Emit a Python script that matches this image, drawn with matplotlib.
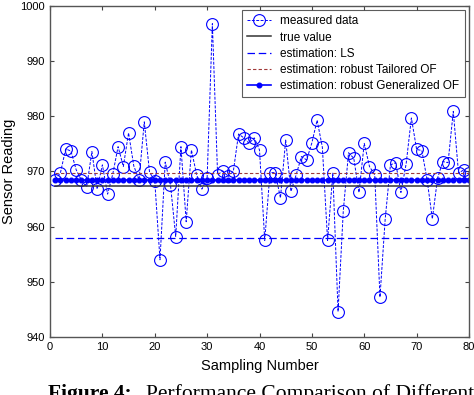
import numpy as np
import matplotlib
matplotlib.use('Agg')
import matplotlib.pyplot as plt

plt.rcParams['font.family'] = ['Liberation Sans', 'DejaVu Sans']

# measured sensor readings, samples 1..80
sample = np.arange(1, 81)
measured = [968.5, 969.8, 974.1, 973.7, 970.3, 968.4, 967.2, 973.6, 966.8, 971.2,
            965.9, 969.6, 974.5, 970.9, 977.0, 971.0, 968.5, 979.0, 969.9, 968.3,
            954.0, 971.7, 967.6, 958.2, 974.5, 960.9, 973.9, 969.4, 966.8, 968.8,
            996.8, 969.4, 970.1, 969.1, 970.0, 976.8, 976.1, 975.1, 976.1, 973.9,
            957.5, 969.8, 969.8, 965.2, 975.7, 966.4, 969.4, 972.7, 972.1, 975.2,
            979.3, 974.4, 957.5, 969.7, 944.6, 962.9, 973.4, 972.4, 966.2, 975.1,
            970.9, 969.4, 947.2, 961.4, 971.2, 971.6, 966.2, 971.4, 979.7, 974.0,
            973.8, 968.5, 961.4, 968.8, 971.8, 971.6, 980.9, 969.7, 970.3, 969.7]
true_value = 967.4
est_ls = 957.9
est_tailored = 969.7
est_generalized = 968.4

fig = plt.figure(figsize=(4.74, 3.95), dpi=100)
ax = fig.add_axes([50 / 474, 1 - 337 / 395, 419 / 474, 331 / 395])

n = len(sample)
ax.plot(sample, measured, '--', color='blue', lw=0.7, dashes=(3, 1.5),
        marker='o', ms=8.5, mfc='none', mew=0.8, label='measured data')
ax.plot(sample, [true_value] * n, '-', color='#333333', lw=1.1, label='true value')
ax.plot(sample, [est_ls] * n, '--', color='blue', lw=0.9, dashes=(6, 3),
        label='estimation: LS')
ax.plot(sample, [est_tailored] * n, '--', color='#a03838', lw=0.8, dashes=(3, 2),
        label='estimation: robust Tailored OF')
ax.plot(sample, [est_generalized] * n, '-', color='blue', lw=1.2,
        marker='o', ms=3.3, mfc='blue', mec='blue', label='estimation: robust Generalized OF')

ax.set_xlim(0, 80)
ax.set_ylim(940, 1000)
ax.set_xticks(range(0, 81, 10))
ax.set_yticks(range(940, 1001, 10))
ax.tick_params(direction='in', top=True, right=True, labelsize=8, length=3,
               color='#444444')
for s in ax.spines.values():
    s.set_color('#555555')
    s.set_linewidth(1.0)

ax.set_xlabel('Sampling Number', fontsize=10.5, labelpad=5)
ax.set_ylabel('Sensor Reading', fontsize=10.5, labelpad=3)

leg = ax.legend(loc='upper right', fontsize=8.5, frameon=True, fancybox=False,
                edgecolor='#333333', handlelength=2.0, borderpad=0.45,
                labelspacing=0.35, borderaxespad=0.35, handletextpad=0.8)
leg.get_frame().set_linewidth(0.8)

cap_y = 1 - 399 / 395
fig.text(48 / 474, cap_y, 'Figure 4:', family=['Liberation Serif', 'DejaVu Serif'],
         fontsize=15.5, fontweight='bold', ha='left', va='baseline')
fig.text(146 / 474, cap_y, 'Performance Comparison of Different',
         family=['Liberation Serif', 'DejaVu Serif'], fontsize=15.5,
         ha='left', va='baseline')

fig.savefig('out.png', dpi=100)
